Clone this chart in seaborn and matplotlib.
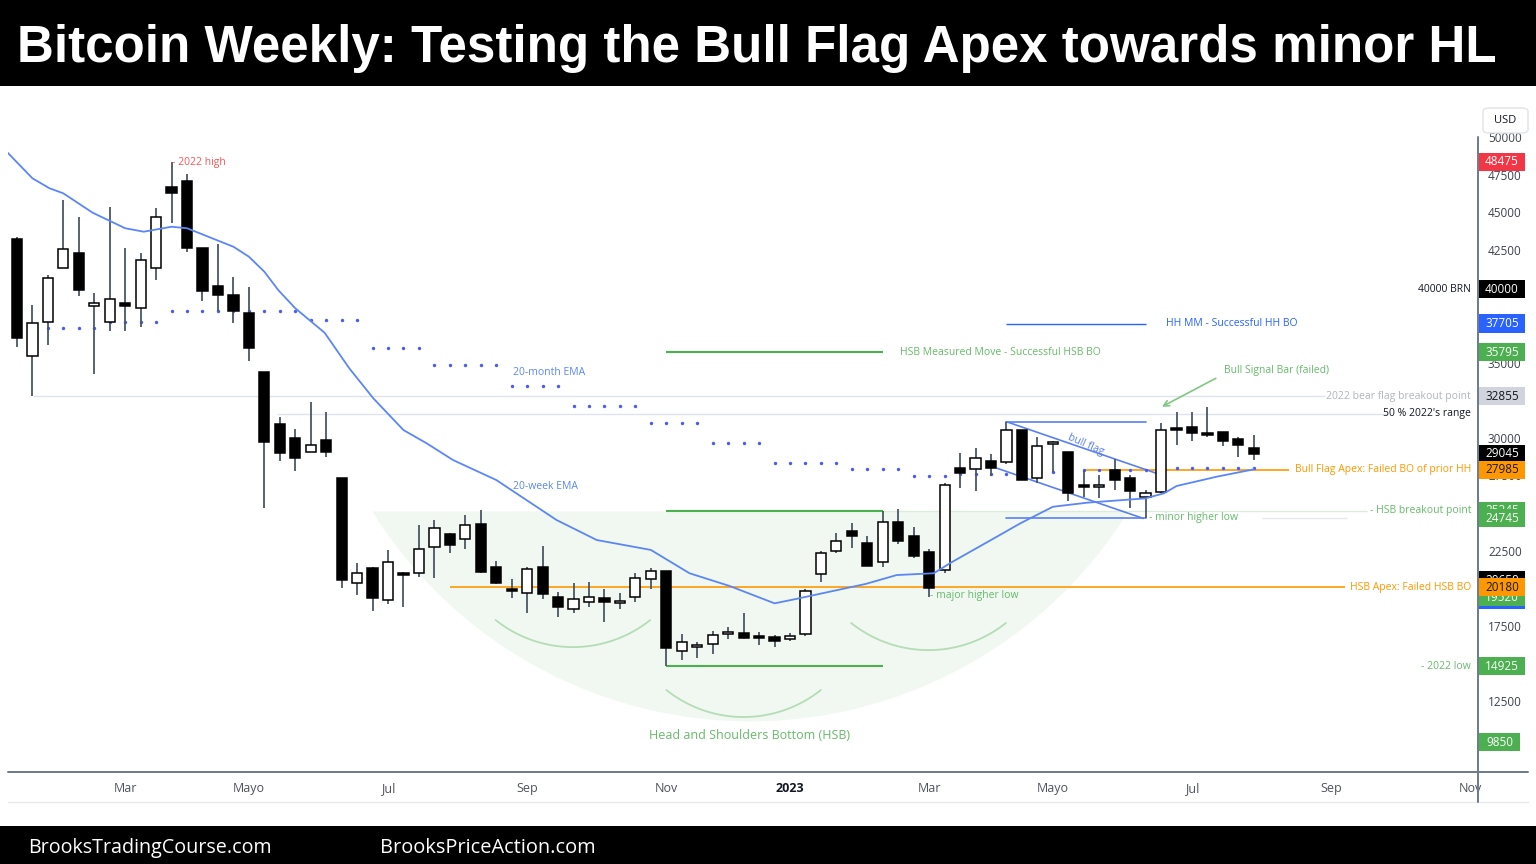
import numpy as np
import pandas as pd
import matplotlib
matplotlib.use("Agg")
import matplotlib.pyplot as plt
import matplotlib.transforms as mtransforms
from matplotlib.patches import Rectangle, FancyBboxPatch
from matplotlib.lines import Line2D
import seaborn as sns

# ---- data (weekly BTC bars) ----
start_week = "2022-01-17"
opens = [43305, 35545, 37830, 41420, 42410, 38870, 37830, 39090, 38720, 41415,
         46760, 47200, 42745, 40200, 39600, 38385, 34500, 31025, 30075, 29180,
         29960, 27415, 20430, 21430, 19320, 21095, 21095, 22825, 23710, 23355,
         24375, 21495, 19950, 19765, 21535, 19540, 18745, 19190, 19435, 19110,
         19500, 20720, 21270, 15930, 16220, 16375, 17060, 17105, 16800, 16880,
         16710, 17040, 21030, 22600, 23930, 23130, 21870, 24530, 23575, 22495,
         21315, 28120, 28010, 28565, 28515, 30625, 27415, 29700, 29140, 26900,
         26850, 27965, 27415, 26190, 26520, 30700, 30845, 30400, 30470, 30005,
         29410]
highs = [43480, 38940, 40930, 45920, 44810, 39755, 45470, 42750, 42375, 45365,
         48475, 47625, 42745, 42990, 40820, 40155, 34500, 31470, 30670, 32505,
         31800, 27415, 21760, 21495, 22645, 21205, 24310, 24640, 23755, 24975,
         25305, 21935, 20700, 21535, 22910, 19875, 20470, 20540, 20035, 19765,
         21135, 21470, 21270, 17040, 16550, 17280, 17545, 18475, 17215, 16995,
         17105, 20035, 22580, 23795, 24460, 23575, 25245, 25350, 24195, 22715,
         27120, 29115, 29410, 29030, 31177, 30650, 30140, 29895, 29170, 27965,
         27635, 28675, 27635, 26635, 31115, 31800, 31840, 32175, 30500, 30140,
         30295]
lows = [36160, 32885, 36280, 41420, 39535, 34350, 37230, 37230, 37490, 40600,
        44370, 42480, 39220, 38555, 37720, 35235, 25420, 28585, 27920, 29180,
        28810, 20100, 19655, 18610, 19055, 18875, 20830, 20765, 22465, 22690,
        21095, 20385, 19435, 18435, 19370, 18170, 18475, 18835, 17880, 18705,
        19210, 20055, 14925, 15330, 15445, 15730, 16710, 16750, 16330, 16175,
        16620, 16950, 20540, 22425, 22760, 21560, 21495, 23045, 22095, 19550,
        21135, 26750, 26590, 27565, 28365, 27280, 27080, 27850, 25925, 26190,
        26085, 26635, 25420, 24745, 26415, 29630, 29915, 30140, 29580, 28810,
        28630]
closes = [36740, 37760, 40710, 42660, 39935, 39050, 39355, 38870, 41930, 44765,
          46365, 42745, 39865, 39600, 38555, 36055, 29805, 29075, 28745, 29630,
          29140, 20650, 21095, 19435, 21870, 20965, 22690, 24090, 22980, 24310,
          21165, 20470, 19900, 21365, 19700, 18875, 19370, 19500, 19190, 19240,
          20765, 21250, 16110, 16550, 16330, 16995, 17110, 16775, 16780, 16595,
          16930, 19920, 22425, 23265, 23575, 21600, 24530, 23245, 22245, 20100,
          26970, 27745, 28745, 28080, 30625, 27300, 29560, 29840, 26455, 26860,
          26900, 27300, 26570, 26415, 30600, 30650, 30405, 30300, 29895, 29630,
          29045]

# 20-month EMA as plotted (dots, one per weekly bar)
ema20m = ([37390] * 6 + [37830] * 4 + [38560] * 9 + [37940] * 4 + [36060] * 4 +
          [34950] * 5 + [33520] * 4 + [32220] * 5 + [31070] * 4 + [29780] * 4 +
          [28450] * 5 + [28010] * 4 + [27570] * 3 + [27670] * 6 + [27850] * 1 +
          [27965] * 7 + [28080] * 6)

# 20-week EMA, read at points along the curve (week index, price)
ema20w_x = [-0.6, 1, 2.1, 3, 4.9, 7, 8.2, 10, 11, 12.9, 14, 15, 16, 16.9, 18,
            19.9, 21.5, 23.05, 25, 26.5, 28.2, 31, 34.9, 37.5, 41, 43.5, 46.1,
            49, 50.3, 54.9, 56.9, 59.3, 60.4, 63, 64.9, 67, 69.2, 73, 74.2, 75,
            77.6, 80]
ema20w_y = [49060, 47360, 46700, 46360, 45070, 44040, 43810, 44140, 44040,
            43260, 42810, 42150, 41150, 39930, 38720, 37090, 34720, 32730,
            30620, 29740, 28630, 27300, 24640, 23310, 22650, 21100, 20250,
            19100, 19370, 20390, 20980, 21100, 21800, 23310, 24420, 25520,
            25790, 26080, 26420, 26900, 27520, 28010]

tick_dates = ["2022-03-07", "2022-05-02", "2022-07-04", "2022-09-05", "2022-11-07",
              "2023-01-02", "2023-03-06", "2023-05-01", "2023-07-03", "2023-09-04",
              "2023-11-06"]
tick_labels = ["Mar", "Mayo", "Jul", "Sep", "Nov", "2023", "Mar", "Mayo", "Jul",
               "Sep", "Nov"]
price_ticks = [50000, 47500, 45000, 42500, 35000, 30000, 27500, 22500, 17500, 12500]

# right-scale price tags: value, box colour, text colour
tags = [(48475, "#f23645", "white"), (40000, "#000000", "white"),
        (37705, "#2962ff", "white"), (35795, "#4caf50", "white"),
        (32855, "#d1d4dc", "#131722"), (29045, "#000000", "white"),
        (27985, "#ff9800", "#131722"), (25245, "#4caf50", "white"),
        (24745, "#4caf50", "white"), (19300, "#2962ff", "white"),
        (19520, "#4caf50", "white"), (20650, "#000000", "white"),
        (20180, "#ff9800", "#131722"), (14925, "#4caf50", "white"),
        (9850, "#4caf50", "white")]

title = "Bitcoin Weekly: Testing the Bull Flag Apex towards minor HL"

# ---- figure ----
sns.set_style("white")
plt.rcParams["font.family"] = ["Open Sans", "DejaVu Sans"]

W, H = 1536, 864
fig = plt.figure(figsize=(15.36, 8.64), dpi=100)
fig.patch.set_facecolor("white")


def fx(px):
    return px / W


def fy(py):
    return 1 - py / H


ax = fig.add_axes([fx(8), fy(772), fx(1470), (772 - 100) / H])
ax.set_xlim(-0.58, 94.5)
ax.set_ylim(7885, 52567)
for s in ax.spines.values():
    s.set_visible(False)
ax.set_yticks([])

df = pd.DataFrame({"open": opens, "high": highs, "low": lows, "close": closes})
df["week"] = pd.date_range(start_week, periods=len(df), freq="W-MON")
df["i"] = np.arange(len(df))
t0 = pd.Timestamp(start_week)

green = "#4caf50"
lgreen = "#66bb6a"
orange = "#ff9800"
blue = "#5b86f5"
flagblue = "#5a7ff0"


def arc(cx, hw, top, depth, d, n=120):
    s = np.linspace(-1, 1, n)
    R = (1 + d * d) / (2 * d)
    f = (np.sqrt(R * R - s * s) - (R - d)) / d
    return cx + hw * s, top - depth * f


# head and shoulders bowl
bx, by = arc(47.4, 24.45, 25245, 13960, 0.556)
ax.fill_between(bx, by, 25245, color="#f1f8f1", lw=0, zorder=0)
for cx, top in [(35.96, 17990), (47.0, 13340), (58.96, 17790)]:
    axx, ayy = arc(cx, 5.0, top, 1800, 0.346)
    ax.plot(axx, ayy, color="#a5d6a7", lw=1.3, alpha=0.8, zorder=1)

# horizontal reference lines
ax.hlines(32855, 1.05, 84.6, color="#e0e3eb", lw=1, zorder=1)
ax.hlines(31700, 16.8, 88.6, color="#e0e3eb", lw=1, zorder=1)
ax.hlines(25245, 56, 87.3, color="#dcebdc", lw=1, zorder=1)
ax.hlines(24745, 80.5, 86.0, color="#e6e8ec", lw=1, zorder=1)
ax.hlines(20180, 28.0, 85.9, color=orange, lw=1.2, zorder=2)
ax.hlines(27985, 69.0, 82.3, color=orange, lw=1.2, zorder=2)
ax.hlines([25245, 14925, 35795], 42, 56, color=green, lw=1.5, zorder=2)
ax.hlines(37705, 64, 73, color="#2962ff", lw=1, zorder=2)

# bull flag
ax.plot([64, 73], [31177, 31177], color=flagblue, lw=1.2, zorder=2)
ax.plot([64, 73.7], [31177, 27746], color=flagblue, lw=1.2, zorder=2)
ax.plot([63.4, 72.85], [28078, 24745], color=flagblue, lw=1.2, zorder=2)
ax.plot([64, 73], [24745, 24745], color=flagblue, lw=1.2, zorder=2)

# 20-month EMA dots and 20-week EMA line
sns.scatterplot(x=df["i"], y=ema20m, ax=ax, s=6, color="#4a5cf0", linewidth=0,
                zorder=2, legend=False)
sns.lineplot(x=ema20w_x, y=ema20w_y, ax=ax, color=blue, lw=1.3, zorder=5,
             sort=False, estimator=None)
ax.set_xlabel("")
ax.set_ylabel("")

# candles
wick = "#4a5866"
for _, r in df.iterrows():
    ax.vlines(r["i"], r["low"], r["high"], color=wick, lw=1.3, zorder=3)
    bot = min(r["open"], r["close"])
    h = max(abs(r["close"] - r["open"]), 140)
    fc = "white" if r["close"] >= r["open"] else "black"
    ax.bar(r["i"], h, bottom=bot, width=0.66, color=fc, edgecolor="black",
           lw=1.1, zorder=4)

# annotations
fs = 7.5
ax.text(10.0, 48440, "- 2022 high", color="#f05a5a", fontsize=fs, va="center")
ax.text(32.1, 34480, "20-month EMA", color=blue, fontsize=fs, va="center")
ax.text(32.1, 26835, "20-week EMA", color=blue, fontsize=fs, va="center")
ax.text(57.1, 35800, "HSB Measured Move - Successful HSB BO", color=lgreen,
        fontsize=fs, va="center")
ax.text(74.3, 37690, "HH MM - Successful HH BO", color="#2962ff", fontsize=fs,
        va="center")
ax.text(78.07, 34614, "Bull Signal Bar (failed)", color=lgreen, fontsize=fs,
        va="center")
ax.annotate("", xy=(73.9, 32088), xytext=(77.7, 34149),
            arrowprops=dict(arrowstyle="->", color="#81c784", lw=1.2))
ax.text(69.1, 29650, "bull flag", color=flagblue, fontsize=fs, rotation=-24,
        ha="center", va="center", zorder=6)
ax.text(59.05, 19588, "- major higher low", color=lgreen, fontsize=fs, va="center")
ax.text(73.2, 24774, "- minor higher low", color=lgreen, fontsize=fs, va="center")
ax.text(47.4, 10345, "Head and Shoulders Bottom (HSB)", color=lgreen, fontsize=9,
        ha="center", va="center")

xr = 94.05
right_notes = [(40000, "40000 BRN", "#131722"),
               (32855, "2022 bear flag breakout point", "#b2b5be"),
               (31700, "50 % 2022's range", "#131722"),
               (27985, "Bull Flag Apex: Failed BO of prior HH", orange),
               (25245, "- HSB breakout point", lgreen),
               (20180, "HSB Apex: Failed HSB BO", orange),
               (14925, "- 2022 low", lgreen)]
for p, txt, c in right_notes:
    ax.text(xr, p, txt, color=c, fontsize=fs, ha="right", va="center")

# x axis
tick_pos = [(pd.Timestamp(d) - t0).days / 7 for d in tick_dates]
ax.set_xticks(tick_pos)
ax.set_xticklabels(tick_labels, fontsize=9, color="#50535e")
ax.tick_params(axis="x", length=0, pad=7)
for lab in ax.get_xticklabels():
    if lab.get_text() == "2023":
        lab.set_fontweight("bold")
        lab.set_color("#131722")

# right price scale
tr = mtransforms.blended_transform_factory(fig.transFigure, ax.transData)
for p in price_ticks:
    ax.text(fx(1488), p, str(p), transform=tr, fontsize=8.5, color="#3c4250",
            va="center", ha="left", clip_on=False, zorder=10)
half = 600
for k, (p, bc, tc) in enumerate(tags):
    wpx = 41 if p < 10000 else 46
    ax.add_patch(Rectangle((fx(1479), p - half), fx(wpx), 2 * half, transform=tr,
                           facecolor=bc, edgecolor="none", clip_on=False,
                           zorder=20 + 2 * k))
    ax.text(fx(1479 + wpx / 2), p, str(p), transform=tr, fontsize=8.5, color=tc,
            ha="center", va="center", clip_on=False, zorder=21 + 2 * k)

fig.add_artist(Line2D([fx(8), fx(1528)], [fy(772), fy(772)], color="#6b7a8a", lw=1.4))
fig.add_artist(Line2D([fx(8), fx(1528)], [fy(802), fy(802)], color="#e6e8ec", lw=1))
fig.add_artist(Line2D([fx(1478), fx(1478)], [fy(137), fy(802)], color="#6b7a8a", lw=1.4))
fig.add_artist(FancyBboxPatch((fx(1483), fy(133)), fx(45), 25 / H,
                              boxstyle="round,pad=0,rounding_size=0.004",
                              transform=fig.transFigure, facecolor="white",
                              edgecolor="#e0e3eb", lw=1))
fig.text(fx(1505), fy(120.5), "USD", fontsize=8, color="#131722", ha="center",
         va="center")

# header and footer bands
fig.add_artist(Rectangle((0, fy(86)), 1, 86 / H, transform=fig.transFigure,
                         facecolor="black", edgecolor="none", zorder=0))
fig.add_artist(Rectangle((0, 0), 1, 38 / H, transform=fig.transFigure,
                         facecolor="black", edgecolor="none", zorder=0))


def fit_text(x0, x1, y, s, size, **kw):
    t = fig.text(fx(x0), fy(y), s, fontsize=size, va="baseline", ha="left", **kw)
    fig.canvas.draw()
    w = t.get_window_extent().width
    t.set_fontsize(size * (x1 - x0) / w)
    return t


fit_text(17, 1495, 62, title, 40, color="white", fontweight="bold",
         family=["Liberation Sans", "DejaVu Sans"])
fit_text(28, 273, 853, "BrooksTradingCourse.com", 14, color="white")
fit_text(380, 596, 853, "BrooksPriceAction.com", 14, color="white")

fig.savefig("out.png", dpi=100)
